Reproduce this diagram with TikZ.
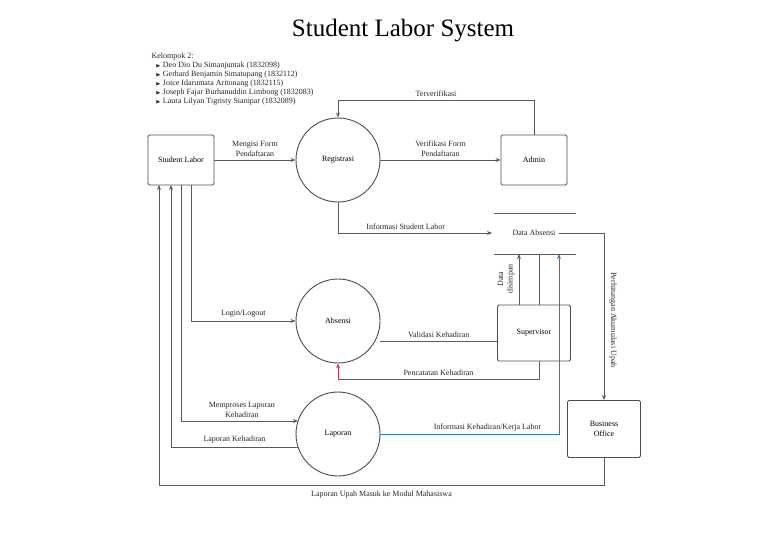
\documentclass[tikz,border=0pt]{standalone}
\usepackage{amssymb}
\usepackage{fontspec}
\setmainfont{Liberation Serif}
\usetikzlibrary{arrows.meta}
\begin{document}
\begin{tikzpicture}[x=1pt,y=-1pt,
  ln/.style={draw=black!65,line width=0.8pt},
  arr/.style={ln,-{Stealth[length=5pt,width=4pt]}},
  box/.style={draw=black!70,line width=0.9pt,rounded corners=1.5pt,minimum width=66pt,minimum height=50pt,align=center,font=\fontsize{8}{9.5}\selectfont},
  proc/.style={draw=black!70,line width=0.9pt,circle,minimum size=84pt,font=\fontsize{8}{9.5}\selectfont},
  lab/.style={font=\fontsize{8}{9.5}\selectfont,align=center,text=black!85},
  red/.style={draw={rgb,255:red,200;green,50;blue,60}},
  blu/.style={draw={rgb,255:red,40;green,125;blue,185}}]
\useasboundingbox (0,0) rectangle (768,542);
\node[font=\fontsize{25}{28}\selectfont] (title) at (403,31) {Student Labor System};
\node[lab,anchor=north west,align=left] (grp) at (148,49) {Kelompok 2:\\[-0.5pt]
\hspace*{4pt}{\tiny$\blacktriangleright$} Deo Dio Du Simanjuntak (1832098)\\[-0.5pt]
\hspace*{4pt}{\tiny$\blacktriangleright$} Gerhard Benjamin Simatupang (1832112)\\[-0.5pt]
\hspace*{4pt}{\tiny$\blacktriangleright$} Joice Idarumata Aritonang (1832115)\\[-0.5pt]
\hspace*{4pt}{\tiny$\blacktriangleright$} Joseph Fajar Burhanuddin Limbong (1832083)\\[-0.5pt]
\hspace*{4pt}{\tiny$\blacktriangleright$} Laura Lilyan Tigristy Sianipar (1832089)};
\node[box] (sl) at (181,160) {Student Labor};
\node[proc] (reg) at (338,160) {Registrasi};
\node[box] (adm) at (534,160) {Admin};
\node[proc] (abs) at (338,321) {Absensi};
\node[box,minimum width=73pt,minimum height=56pt] (sup) at (534,333) {Supervisor};
\node[proc] (lap) at (338,434) {Laporan};
\node[box,minimum width=73pt,minimum height=57pt] (bo) at (604,429) {Business\\Office};
\node[lab] (da) at (534,233) {Data Absensi};
\draw[ln] (494,213) -- (576,213);
\draw[ln] (494,254) -- (576,254);
\coordinate (lin) at (298,421);
\coordinate (lout) at (298,447);
% registration
\draw[arr] (sl.east) -- node[lab,above]{Mengisi Form\\Pendaftaran} (reg.west);
\draw[arr] (reg.east) -- node[lab,above]{Verifikasi Form\\Pendaftaran} (adm.west);
\draw[arr] (adm.north) |- (338,100) node[lab,pos=0.75,above]{Terverifikasi} -- (reg.north);
\draw[arr] (reg.south) |- node[lab,pos=0.72,above]{Informasi Student Labor} (492,233);
\draw[arr] (da.east) -| (bo.north);
\node[lab,rotate=-90] (pau) at (613,320) {Perhitungan Akumulasi Upah};
% student labor links
\draw[arr] (191,185) |- node[lab,pos=0.75,above]{Login/Logout} (abs.west);
\draw[arr] (181,185) |- node[lab,pos=0.76,above]{Memproses Laporan\\Kehadiran} (lin);
\draw[arr] (lout) -| node[lab,pos=0.25,above]{Laporan Kehadiran} (171,185);
\draw[arr] (bo.south) |- (159,485) node[lab,pos=0.75,below=2pt]{Laporan Upah Masuk ke Modul Mahasiswa} -- (159,185);
% supervisor
\draw[ln] (abs.east |- 0,341) -- node[lab,above]{Validasi Kehadiran} (sup.west |- 0,341);
\draw[arr] (519,305) -- (519,254);
\node[lab,rotate=90] (dsp) at (506,279) {Data\\disimpan};
\draw[ln,red] (539,305) -- (539,254);
\draw[arr,red] (539,361) |- node[lab,pos=0.75,above]{Pencatatan Kehadiran} (338,379) -- (abs.south);
\draw[arr,blu] (lap.east) -| node[lab,pos=0.3,above=-1pt]{Informasi Kehadiran/Kerja Labor} (559,254);
\end{tikzpicture}
\end{document}
